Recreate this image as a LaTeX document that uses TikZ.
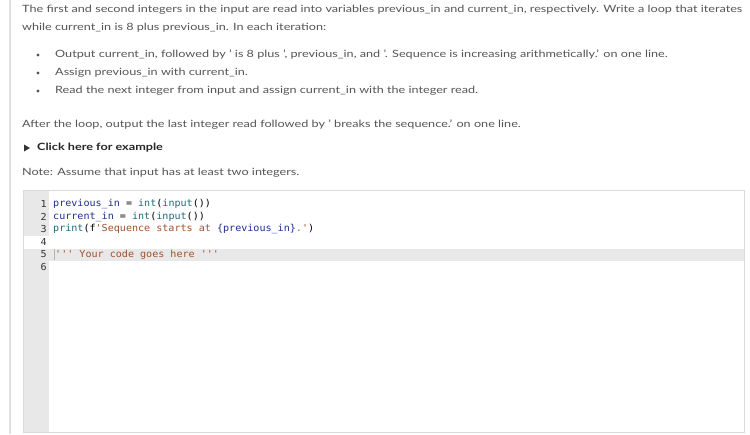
\documentclass[tikz,border=0pt]{standalone}
\usepackage{fontspec}
\setmainfont{Lato}[FakeStretch=1.265]
\setmonofont{DejaVu Sans Mono}[FakeStretch=1.05]
\definecolor{txt}{HTML}{555555}
\definecolor{cvar}{HTML}{1F2F8F}
\definecolor{cfun}{HTML}{1A6E7A}
\definecolor{cstr}{HTML}{A0522D}
\definecolor{gut}{HTML}{E8E8E8}
\begin{document}
\begin{tikzpicture}[x=1pt,y=-1pt,
  t/.style={anchor=west,inner sep=0pt,text=txt,font=\fontsize{10}{12}\selectfont},
  c/.style={anchor=west,inner sep=0pt,font=\ttfamily\fontsize{9.6}{11}\selectfont},
  ln/.style={anchor=east,inner sep=0pt,text=black!80,font=\ttfamily\fontsize{9.6}{11}\selectfont}]
\useasboundingbox (0,0) rectangle (750,434);
\fill[white] (0,0) rectangle (750,434);
\draw[gray!25,line width=1.5pt] (10,0) -- (10,434);
\node[t] (p1) at (22,10) {The first and second integers in the input are read into variables previous\_in and current\_in, respectively. Write a loop that iterates};
\node[t] (p2) at (22,28) {while current\_in is 8 plus previous\_in. In each iteration:};
\foreach \y/\s [count=\i] in {55/{Output current\_in, followed by ' is 8 plus ', previous\_in, and '. Sequence is increasing arithmetically.' on one line.},73/{Assign previous\_in with current\_in.},91/{Read the next integer from input and assign current\_in with the integer read.}}{
  \node[t] (b\i) at (55,\y) {\s};
  \fill[txt] (38,\y) circle (1.6);
}
\node[t] (a1) at (22,125) {After the loop, output the last integer read followed by ' breaks the sequence.' on one line.};
\fill[black!80] (24,144.5) -- (30,148) -- (24,151.5) -- cycle;
\node[t,text=black!85,font=\bfseries\fontsize{10}{12}\selectfont] (ex) at (37,148) {Click here for example};
\node[t] (nt) at (22,173) {Note: Assume that input has at least two integers.};
% editor
\draw[gray!30,fill=white] (23,190) rectangle (744,432);
\fill[gut] (23.5,190.5) rectangle (49,431.5);
\fill[gut] (49,249) rectangle (743.5,261);
\fill[white] (49,190.5) rectangle (743.5,197);
\fill[white] (23.5,236) rectangle (49,249);
\draw[gray!60] (54,249) -- (54,260);
\foreach \n/\y in {1/204,2/216.5,3/229,4/242,5/254.5,6/267}{\node[ln] (l\n) at (47,\y) {\n};}
\node[c] (c1) at (53,204) {\textcolor{cvar}{previous\_in} = \textcolor{cfun}{int}(\textcolor{cfun}{input}())};
\node[c] (c2) at (53,216.5) {\textcolor{cvar}{current\_in} = \textcolor{cfun}{int}(\textcolor{cfun}{input}())};
\node[c] (c3) at (53,229) {\textcolor{cfun}{print}(f\textcolor{cstr}{'Sequence starts at }\textcolor{cvar}{\{previous\_in\}}\textcolor{cstr}{.'})};
\node[c,text=cstr] (c5) at (55,254.5) {''' Your code goes here '''};
\end{tikzpicture}
\end{document}
